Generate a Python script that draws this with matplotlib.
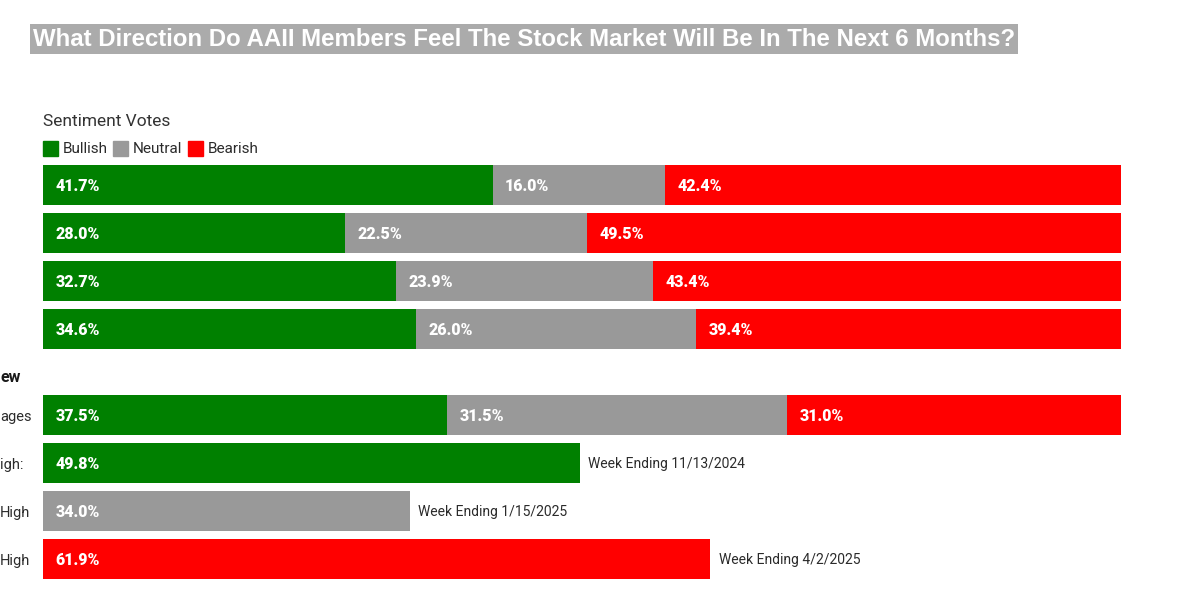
import matplotlib.pyplot as plt
import matplotlib.patches as mpatches

# current + recent weekly sentiment (stacked rows)
bullish = [41.7, 28.0, 32.7, 34.6]
neutral = [16.0, 22.5, 23.9, 26.0]
bearish = [42.4, 49.5, 43.4, 39.4]

# historical section
avg_bullish, avg_neutral, avg_bearish = 37.5, 31.5, 31.0
high_values = [49.8, 34.0, 61.9]
high_weeks = ['Week Ending 11/13/2024', 'Week Ending 1/15/2025', 'Week Ending 4/2/2025']
# row labels are cropped by the left edge in the source image
section_title = 'ew'
avg_label = 'ages'
high_labels = ['igh:', 'High', 'High']

GREEN = '#008000'
GRAY = '#999999'
RED = '#ff0000'
TXT = '#2b2b2b'
FONT = ['Roboto', 'DejaVu Sans']

W, H = 1200, 590
fig = plt.figure(figsize=(12, 5.9), dpi=100)

# axes spans bar area: x 43..1121 px, y 165..579 px
ax = fig.add_axes([43 / W, (H - 579) / H, (1121 - 43) / W, 414 / H])
ax.set_xlim(0, 100)
gap = 86 / 48
ypos = [0, 1, 2, 3] + [3 + gap + i for i in range(4)]
bh = 40 / 48
ax.set_ylim(ypos[-1] + bh / 2, -bh / 2)
ax.axis('off')


def seg(y, left, width, color):
    ax.barh(y, width, left=left, height=bh, color=color, linewidth=0)
    ax.annotate(f'{width:.1f}%', xy=(left, y), xytext=(9, -1), textcoords='offset points',
                ha='left', va='center', color='white', fontsize=11.5, fontweight='black',
                family=FONT)


for i in range(4):
    seg(ypos[i], 0, bullish[i], GREEN)
    seg(ypos[i], bullish[i], neutral[i], GRAY)
    seg(ypos[i], bullish[i] + neutral[i], bearish[i], RED)

seg(ypos[4], 0, avg_bullish, GREEN)
seg(ypos[4], avg_bullish, avg_neutral, GRAY)
seg(ypos[4], avg_bullish + avg_neutral, avg_bearish, RED)

for k, (v, c) in enumerate(zip(high_values, [GREEN, GRAY, RED])):
    y = ypos[5 + k]
    seg(y, 0, v, c)
    ax.annotate(high_weeks[k], xy=(v, y), xytext=(6, -1), textcoords='offset points',
                ha='left', va='center', color=TXT, fontsize=10, family=FONT)


def px(x, y):
    return x / W, 1 - y / H


fig.text(*px(0, 378), section_title, ha='left', va='center', fontsize=11.5,
         fontweight='bold', color='#1a1a1a', family=FONT)
fig.text(*px(0, 417), avg_label, ha='left', va='center', fontsize=10.5, color=TXT, family=FONT)
for k, lab in enumerate(high_labels):
    fig.text(*px(0, 465 + 48 * k), lab, ha='left', va='center', fontsize=10.5,
             color=TXT, family=FONT)

# header + legend
fig.text(*px(43, 122), 'Sentiment Votes', ha='left', va='center', fontsize=12.5,
         color='#333333', family=FONT)
for x0, name, col in [(43, 'Bullish', GREEN), (113, 'Neutral', GRAY), (188, 'Bearish', RED)]:
    fig.patches.append(mpatches.Rectangle((x0 / W, 1 - 156 / H), 15 / W, 15 / H,
                                          transform=fig.transFigure, color=col))
    fig.text(*px(x0 + 20, 149), name, ha='left', va='center', fontsize=11,
             color=TXT, family=FONT)

# title in grey box
fig.text(*px(33, 39), 'What Direction Do AAII Members Feel The Stock Market Will Be In The Next 6 Months?',
         ha='left', va='center', fontsize=17.3, fontweight='bold', color='white',
         family=['Liberation Sans Narrow', 'Liberation Sans', 'DejaVu Sans'],
         bbox=dict(facecolor='#ababab', edgecolor='none', pad=2.5))

fig.savefig('out.png', dpi=100)
